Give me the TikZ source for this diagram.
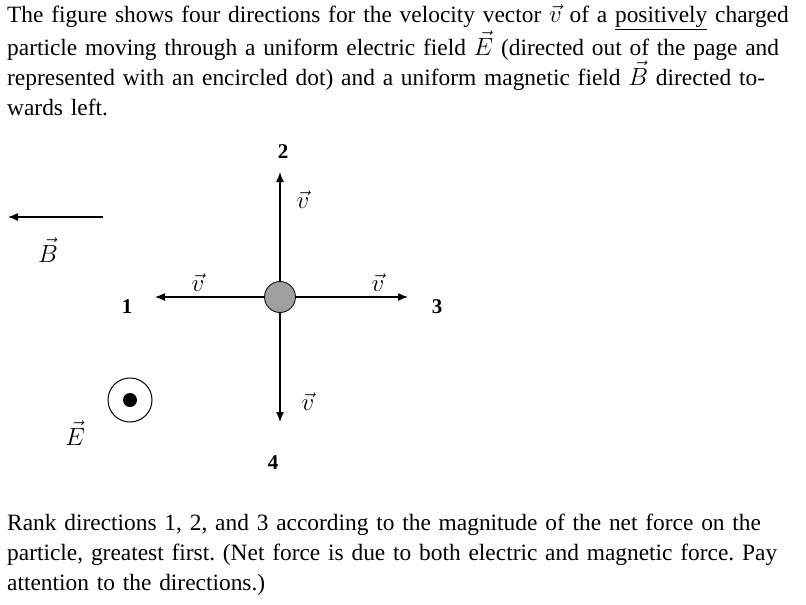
\documentclass[tikz,border=0pt]{standalone}
\usepackage{fontspec}
\setmainfont{Liberation Serif}
\usetikzlibrary{arrows.meta}
\begin{document}
\frenchspacing
\begin{tikzpicture}[x=1pt,y=-1pt,
  txt/.style={inner sep=0pt,anchor=north west,text width=799pt,align=left,font=\fontsize{23.4}{30}\selectfont},
  lbl/.style={inner sep=0pt,font=\fontsize{21}{24}\selectfont\bfseries},
  vl/.style={inner sep=0pt,font=\fontsize{26}{26}\selectfont},
  arr/.style={-{Latex[length=10pt,width=8pt]},line width=1.3pt}]
\useasboundingbox (0,0) rectangle (806,605);
\node[txt] (top) at (7,5) {The figure shows four directions for the velocity vector $\vec v$ of a \underline{positively} charged particle moving through a uniform electric field $\vec E$ (directed out of the page and represented with an encircled dot) and a uniform magnetic field $\vec B$ directed towards left.};
\node[circle,draw,fill=gray!75,minimum size=31pt,inner sep=0pt,line width=0.8pt] (c) at (280,297) {};
\coordinate (u) at (280,172); \coordinate (d) at (280,422);
\coordinate (l) at (155,297); \coordinate (r) at (408,297);
\draw[arr] (c.north) -- (u);
\draw[arr] (c.south) -- (d);
\draw[arr] (c.west) -- (l);
\draw[arr] (c.east) -- (r);
\node[lbl] (n2) at (283,152) {2};
\node[lbl] (n1) at (127,307) {1};
\node[lbl] (n3) at (437,307) {3};
\node[lbl] (n4) at (273,463) {4};
\node[vl] (v2) at (303,200) {$\vec v$};
\node[vl] (v1) at (198,283) {$\vec v$};
\node[vl] (v3) at (378,283) {$\vec v$};
\node[vl] (v4) at (308,402) {$\vec v$};
\coordinate (b1) at (103,217); \coordinate (b2) at (8,217);
\draw[arr] (b1) -- (b2);
\node[vl] (B) at (48,250) {$\vec B$};
\node[circle,draw,line width=1pt,minimum size=44pt,inner sep=0pt] (e) at (130,400) {};
\fill (e.center) circle (7pt);
\node[vl] (E) at (75,433) {$\vec E$};
\node[txt] (bot) at (7,514) {Rank directions 1, 2, and 3 according to the magnitude of the net force on the particle, greatest first. (Net force is due to both electric and magnetic force. Pay attention to the directions.)};
\end{tikzpicture}
\end{document}
